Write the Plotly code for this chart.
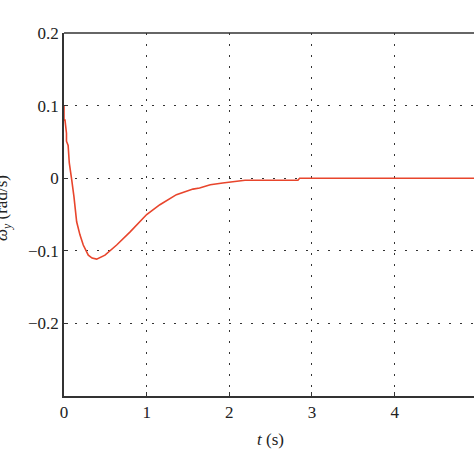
import plotly.graph_objects as go

t_vals = [0.0, 0.0, 0.012, 0.03, 0.03, 0.05, 0.064, 0.08, 0.093, 0.12, 0.153, 0.193, 0.233,
          0.294, 0.34, 0.395, 0.45, 0.496, 0.637, 0.80, 1.0, 1.16, 1.36, 1.56, 1.64,
          1.77, 1.92, 2.17, 2.19, 2.83, 2.85, 3.5, 4.2, 4.96]
w_vals = [0.1, 0.080, 0.080, 0.062, 0.051, 0.045, 0.021, 0.005, -0.002, -0.025, -0.060,
          -0.078, -0.092, -0.106, -0.110, -0.1115, -0.109, -0.106, -0.092, -0.074, -0.050,
          -0.0365, -0.0227, -0.0150, -0.0134, -0.009, -0.0065, -0.004, -0.0028, -0.0028,
          0.0, 0.0, 0.0, 0.0]

x_ticks = [0, 1, 2, 3, 4]
y_ticks = [0.2, 0.1, 0, -0.1, -0.2]
y_tick_text = ["0.2", "0.1", "0", "\u22120.1", "\u22120.2"]

W, H = 474, 474
L, T, B, R = 64, 33, 78, 0
PW, PH = W - L - R, H - T - B

fig = go.Figure()
fig.add_trace(go.Scatter(x=t_vals, y=w_vals, mode="lines",
                         line=dict(color="#e8452c", width=1.6), showlegend=False))

font_family = "'Liberation Serif', 'DejaVu Serif', serif"
fig.update_layout(
    width=W, height=H,
    margin=dict(l=L, r=R, t=T, b=B, pad=0),
    paper_bgcolor="white", plot_bgcolor="white",
    font=dict(family=font_family, size=17, color="#222"),
    xaxis=dict(range=[0, 4.96], tickvals=x_ticks, ticks="inside", ticklen=4,
               tickcolor="#333", showline=True, linecolor="#333", linewidth=1.5,
               showgrid=True, gridcolor="#333", griddash="2px,9px", gridwidth=1,
               zeroline=False, tickfont=dict(family=font_family, size=17)),
    yaxis=dict(range=[-0.3, 0.2], tickvals=y_ticks, ticktext=y_tick_text,
               ticks="inside", ticklen=4, tickcolor="#333",
               showline=True, linecolor="#333", linewidth=1.5,
               showgrid=True, gridcolor="#333", griddash="2px,9px", gridwidth=1,
               zeroline=False, tickfont=dict(family=font_family, size=17)),
    shapes=[dict(type="line", xref="paper", yref="paper", x0=0, x1=1, y0=1, y1=1,
                 line=dict(color="#333", width=1.5))],
    annotations=[
        dict(text="<i>t</i> (s)", xref="paper", yref="paper", x=(270 - L) / PW,
             y=-(440 - (T + PH)) / PH, xanchor="center", yanchor="middle",
             showarrow=False, font=dict(family=font_family, size=17)),
        dict(text="<i>\u03c9</i><sub><i>y</i></sub> (rad/s)", xref="paper", yref="paper",
             x=(3 - L) / PW, y=(T + PH - 208) / PH, xanchor="center", yanchor="middle",
             textangle=-90, showarrow=False, font=dict(family=font_family, size=17)),
    ],
)
fig.write_html(
    "out.html",
    config={"displayModeBar": False},
    post_script="document.body.style.margin='0';document.body.style.overflow='hidden';",
)
